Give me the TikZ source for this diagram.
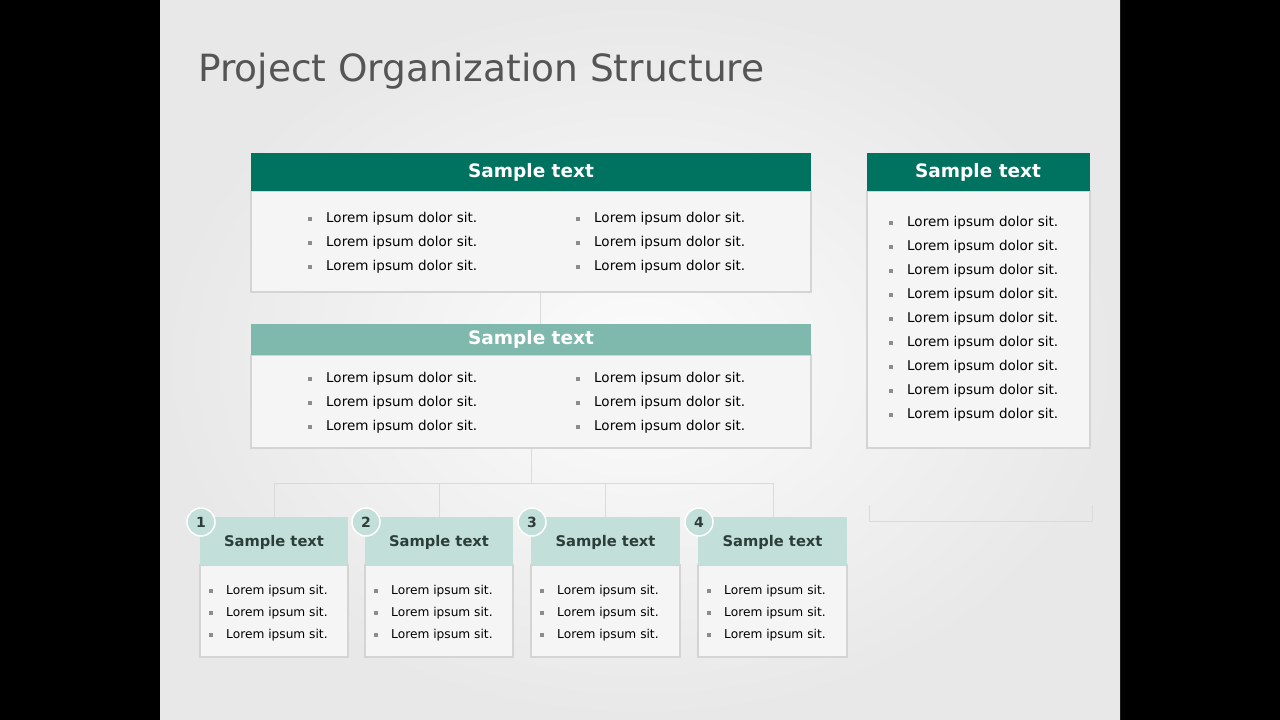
\documentclass[tikz,border=0pt]{standalone}
\usepackage{fontspec}
\setmainfont{DejaVu Sans}
\begin{document}
\begin{tikzpicture}[x=1pt,y=-1pt,
  dkg/.style={fill={rgb,255:red,0;green,115;blue,96}},
  mdg/.style={fill={rgb,255:red,127;green,184;blue,172}},
  ltg/.style={fill={rgb,255:red,195;green,223;blue,217}},
  bodybox/.style={fill={rgb,255:red,245;green,245;blue,245},draw={rgb,255:red,212;green,212;blue,212},line width=1.2pt},
  conn/.style={draw={rgb,255:red,218;green,218;blue,218},line width=0.9pt},
  hdr/.style={font=\bfseries\fontsize{18.5}{20}\selectfont,text=white},
  hdrd/.style={font=\bfseries\fontsize{14.7}{16}\selectfont,text={rgb,255:red,45;green,62;blue,58}},
  li/.style={anchor=west,font=\fontsize{13.5}{15}\selectfont,text=black,inner sep=0pt},
  lis/.style={anchor=west,font=\fontsize{12.2}{14}\selectfont,text=black,inner sep=0pt},
  bul/.style={fill={rgb,255:red,140;green,140;blue,140},minimum size=4pt,inner sep=0pt}]
\useasboundingbox (0,0) rectangle (1280,720);
\fill[black] (0,0) rectangle (1280,720);
\shade[inner color={rgb,255:red,252;green,252;blue,252},outer color={rgb,255:red,232;green,232;blue,232}] (160,0) rectangle (1120,720);
\node[anchor=west,font=\fontsize{37.5}{40}\selectfont,text={rgb,255:red,85;green,85;blue,85},inner sep=0pt] (title) at (198,71) {Project Organization Structure};
% connectors
\coordinate (c1) at (540,292); \coordinate (c2) at (540,324);
\draw[conn] (c1) -- (c2);
\coordinate (m1) at (531,448); \coordinate (m2) at (531,483);
\draw[conn] (m1) -- (m2);
\coordinate (hl) at (274,483); \coordinate (hr) at (773,483);
\draw[conn] (hl) -- (hr);
\foreach \x in {274,439,605,773}{\coordinate (v\x) at (\x,483); \coordinate (w\x) at (\x,517); \draw[conn] (v\x) -- (w\x);}
% top box
\draw[bodybox] (251,191) rectangle (811,292);
\fill[dkg] (251,153) rectangle (811,191);
\node[hdr] (h1) at (531,172) {Sample text};
\foreach \y in {219,243,267}{
 \node[bul] at (310,\y) {}; \node[li] at (326,\y) {Lorem ipsum dolor sit.};
 \node[bul] at (578,\y) {}; \node[li] at (594,\y) {Lorem ipsum dolor sit.};}
% mid box
\draw[bodybox] (251,355) rectangle (811,448);
\fill[mdg] (251,324) rectangle (811,355);
\node[hdr] (h2) at (531,339) {Sample text};
\foreach \y in {379,403,427}{
 \node[bul] at (310,\y) {}; \node[li] at (326,\y) {Lorem ipsum dolor sit.};
 \node[bul] at (578,\y) {}; \node[li] at (594,\y) {Lorem ipsum dolor sit.};}
% right box
\draw[bodybox] (867,191) rectangle (1090,448);
\fill[dkg] (867,153) rectangle (1090,191);
\node[hdr] (h3) at (978,172) {Sample text};
\foreach \i in {0,...,8}{
 \node[bul] at (891,223+24*\i) {}; \node[li] at (907,223+24*\i) {Lorem ipsum dolor sit.};}
\draw[conn] (869,505) -- (869,521) -- (1092,521) -- (1092,505);
% bottom boxes
\foreach \n/\a/\b in {1/200/348,2/365/513,3/531/680,4/698/847}{
 \draw[bodybox] (\a,565) rectangle (\b,657);
 \fill[ltg] (\a,517) rectangle (\b,565);
 \node[hdrd] (b\n) at ({(\a+\b)/2},542) {Sample text};
 \node[circle,ltg,draw=white,line width=1.5pt,minimum size=28pt,inner sep=0pt,font=\bfseries\fontsize{14}{15}\selectfont,text={rgb,255:red,45;green,62;blue,58}] (n\n) at (\a+1,522) {\n};
 \foreach \y in {591,613,635}{
  \node[bul] at (\a+11,\y) {}; \node[lis] at (\a+26,\y) {Lorem ipsum sit.};}}
\end{tikzpicture}
\end{document}
